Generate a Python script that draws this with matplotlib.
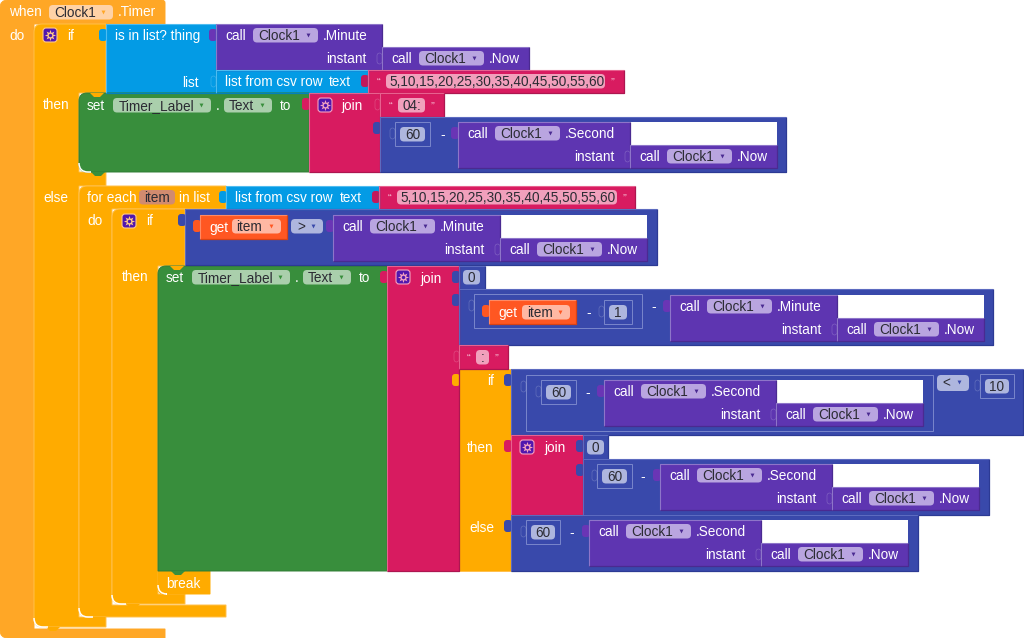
import matplotlib
matplotlib.use("Agg")
import matplotlib.pyplot as plt
from matplotlib.patches import PathPatch, FancyBboxPatch, Rectangle
from matplotlib.path import Path

plt.rcParams['font.family'] = ['Liberation Sans', 'DejaVu Sans']

# texts on the blocks
clock_name = "Clock1"
label_name = "Timer_Label"
csv_row = "5,10,15,20,25,30,35,40,45,50,55,60"
var_name = "item"
first_text = "04:"
sep_text = ":"

# block colours
EVENT = '#FFA726'
CTRL = '#FFAB00'
LIST = '#039BE5'
CALL = '#5E35B1'
TEXT = '#D81B60'
SET = '#388E3C'
MATH = '#3949AB'
GET = '#FF5722'

FS = 9.8

fig = plt.figure(figsize=(10.24, 6.38), dpi=100)
ax = fig.add_axes([0, 0, 1, 1])
ax.set_xlim(0, 1024)
ax.set_ylim(638, 0)
ax.axis('off')


def shape(points, color, edge=None):
    # points are (x, y) or (x, y, corner radius), closed polygon
    verts, codes = [], []
    n = len(points)
    for i, p in enumerate(points):
        r = p[2] if len(p) > 2 else 0
        x, y = p[0], p[1]
        if r == 0:
            verts.append((x, y))
            codes.append(Path.LINETO)
            continue
        px, py = points[i - 1][:2]
        nx, ny = points[(i + 1) % n][:2]
        d1 = max(abs(px - x), abs(py - y))
        d2 = max(abs(nx - x), abs(ny - y))
        a = (x + (px - x) * r / d1, y + (py - y) * r / d1)
        b = (x + (nx - x) * r / d2, y + (ny - y) * r / d2)
        verts += [a, (x, y), b]
        codes += [Path.LINETO, Path.CURVE3, Path.CURVE3]
    codes[0] = Path.MOVETO
    verts.append(verts[0])
    codes.append(Path.CLOSEPOLY)
    ax.add_patch(PathPatch(Path(verts, codes), fc=color, ec=edge or color, lw=0.7))


def block(x0, y0, x1, y1, color, light, dark):
    ax.add_patch(Rectangle((x0, y0), x1 - x0, y1 - y0, fc=color, ec='none'))
    ax.plot([x0, x0, x1], [y1, y0, y0], color=light, lw=0.8, solid_capstyle='butt')
    ax.plot([x0, x1, x1], [y1, y1, y0], color=dark, lw=0.9, solid_capstyle='butt')


def blue(x0, y0, x1, y1):
    block(x0, y0, x1, y1, MATH, '#5c6bc0', '#2c3a94')


def purple(x0, y0, x1, y1):
    block(x0, y0, x1, y1, CALL, '#8e75c9', '#4a2a91')


def pink(x0, y0, x1, y1):
    block(x0, y0, x1, y1, TEXT, '#e8618f', '#ad1650')


def sky(x0, y0, x1, y1):
    block(x0, y0, x1, y1, LIST, '#4fbcf0', '#0280bd')


def tab(x, y, color, faint=False):
    if faint:
        ax.add_patch(FancyBboxPatch((x - 5, y + 6), 5, 11, boxstyle='round,pad=0,rounding_size=2.5',
                                    fc=color, ec='#ffffff', lw=0.3, alpha=0.35))
    else:
        ax.add_patch(FancyBboxPatch((x - 7, y + 5), 8, 12, boxstyle='round,pad=0,rounding_size=3',
                                    fc=color, ec='none'))


def label(x, y, s, color='white', ha='left', size=FS):
    ax.text(x, y, s, color=color, ha=ha, va='baseline', fontsize=size)


def pill(x0, y0, x1, s, fc, arrow=None, tx=None, h=14.5):
    ax.add_patch(FancyBboxPatch((x0, y0), x1 - x0, h, boxstyle='round,pad=0,rounding_size=4',
                                fc=fc, ec='none'))
    if tx is None:
        ax.text((x0 + x1) / 2, y0 + 12, s, color='#2b2b33', ha='center', va='baseline', fontsize=FS)
    else:
        ax.text(tx, y0 + 12, s, color='#2b2b33', ha='left', va='baseline', fontsize=FS)
    if arrow:
        ax.plot([x1 - 10], [y0 + 7], marker='v', ms=2.8, color=arrow, mec='none')


def clock_pill(x, y):
    pill(x, y, x + 65, clock_name, '#B9A5E0', '#4a2a91', tx=x + 5)


def clock_call(x0, y0, x1, prop, hole=True):
    # the "call Clock1.prop" block with its nested "call Clock1.Now"
    if hole:
        ax.add_patch(Rectangle((x1, y0), 147, 23, fc='white', ec='none'))
    purple(x0, y0, x1, y0 + 46)
    label(x0 + 9, y0 + 16, "call")
    clock_pill(x0 + 37, y0 + 4)
    label(x0 + 107, y0 + 16, prop)
    label(x1 - 16, y0 + 39, "instant", ha='right')
    purple(x1, y0 + 23, x1 + 147, y0 + 46)
    tab(x1, y0 + 23, CALL, faint=True)
    label(x1 + 9, y0 + 39, "call")
    clock_pill(x1 + 37, y0 + 27)
    label(x1 + 107, y0 + 39, ".Now")
    tab(x0, y0, '#6a35b5')


def number(x0, y0, x1, s):
    # shadow number inside a math block
    ax.add_patch(Rectangle((x0, y0), x1 - x0, 24, fc=MATH, ec='#7986cb', lw=0.7))
    tab(x0, y0, MATH, faint=True)
    pill(x0 + 5, y0 + 5, x1 - 5, s, '#AEB6DE')


def gear(cx, cy, ring):
    ax.add_patch(FancyBboxPatch((cx - 7, cy - 7), 14, 14, boxstyle='round,pad=0,rounding_size=3',
                                fc='#4F16AE', ec=ring, lw=0.8))
    ax.plot([cx], [cy], marker=(8, 1, 0), ms=8, color=ring, mec='none')
    ax.plot([cx], [cy], marker='o', ms=2.5, color='#4F16AE', mec='none')


def quoted(x0, x1, base, s, fc, tx=None):
    label(x0 - 9, base, "\u201c", color='#f7c6d8', size=8)
    label(x1 + 6, base, "\u201d", color='#f7c6d8', size=8)
    pill(x0, base - 12, x1, s, fc, tx=tx)


def notch(x, y, color):
    ax.fill([x - 7, x - 3, x + 3, x + 7], [y, y + 4, y + 4, y], color=color, lw=0)


def corner_arc(x, y, run=18):
    # pale crescent on the inner bottom left of a nested statement
    p = Path([(x, y - 9), (x, y), (x + 9, y), (x + run, y)],
             [Path.MOVETO, Path.CURVE3, Path.CURVE3, Path.LINETO])
    ax.add_patch(PathPatch(p, fc='none', ec='white', lw=1.1))


# outer event block
shape([(0, 0, 8), (165, 0, 3), (165, 24), (34, 24), (34, 629), (165, 629), (165, 638), (0, 638, 8)], EVENT)
label(9, 16, "when")
pill(49, 5, 113, clock_name, '#FFD2A6', '#FFA726', tx=54)
label(118, 16, ".Timer")
label(9, 40, "do")

# if / then / else
shape([(34, 24, 8), (106, 24), (106, 93), (79, 93), (79, 172), (106, 172), (106, 186), (79, 186),
       (79, 617), (106, 617), (106, 627), (34, 627, 8)], CTRL, '#FFC04D')
notch(53, 627, CTRL)
corner_arc(34, 627, 14)
gear(50, 35, '#FFC98A')
label(67, 40, "if")
label(43, 109, "then")
label(43, 202, "else")

# is in list?
sky(106, 24, 216, 93)
tab(106, 24, LIST)
label(115, 40, "is in list? thing")
label(199, 87, "list", ha='right')
clock_call(216, 24, 382, ".Minute", hole=False)
sky(216, 70, 368, 93)
tab(216, 70, LIST, faint=True)
label(225, 86, "list from csv row")
label(329, 86, "text")
pink(368, 70, 624, 93)
tab(368, 70, '#c2185b')
quoted(386, 605, 86, csv_row, '#F1A0BC', tx=389)

# first set
shape([(79, 93, 8), (309, 93), (309, 172), (79, 172, 8)], SET, '#2f7d34')
notch(97, 93, CTRL)
notch(98, 172, SET)
corner_arc(79, 172, 12)
label(87, 110, "set")
pill(113, 98, 211, label_name, '#AACFAC', '#388E3C', tx=119)
label(216, 110, ".")
pill(224, 98, 272, "Text", '#AACFAC', '#388E3C', tx=229)
label(280, 110, "to")
pink(309, 93, 380, 172)
tab(309, 93, TEXT)
gear(325, 105, '#F5A3C0')
label(341, 110, "join")
pink(380, 93, 444, 117)
tab(380, 93, TEXT, faint=True)
quoted(398, 425, 110, first_text, '#F1A0BC')
blue(380, 117, 786, 172)
tab(380, 117, MATH)
number(395, 122, 430, "60")
label(440, 139, "-")
clock_call(458, 122, 630, ".Second")

# for each
shape([(79, 186, 8), (226, 186), (226, 209), (112, 209), (112, 605), (226, 605), (226, 617),
       (79, 617, 8)], CTRL, '#FFC04D')
notch(99, 617, CTRL)
corner_arc(79, 617, 14)
label(87, 202, "for each")
pill(139, 190, 175, var_name, '#D18B6F', tx=144)
label(179, 202, "in list")
sky(226, 186, 379, 209)
tab(226, 186, LIST)
label(235, 202, "list from csv row")
label(340, 202, "text")
pink(379, 186, 635, 209)
tab(379, 186, '#c2185b')
quoted(397, 617, 202, csv_row, '#F1A0BC', tx=400)
label(87, 225, "do")

# inner if
shape([(112, 209, 8), (185, 209), (185, 266), (158, 266), (158, 594), (185, 594), (185, 604),
       (112, 604, 8)], CTRL, '#FFC04D')
notch(133, 604, CTRL)
corner_arc(112, 604, 14)
gear(129, 221, '#FFC98A')
label(146, 225, "if")
label(122, 281, "then")
blue(185, 209, 657, 265)
tab(185, 209, MATH)
block(200, 215, 287, 239, GET, '#ff8a65', '#d84315')
tab(200, 215, GET)
label(209, 232, "get")
pill(232, 219, 281, var_name, '#FFB8A3', '#FF5722', tx=236)
pill(291, 219, 323, ">", '#AEB6DE', '#3949AB', tx=297)
clock_call(333, 215, 500, ".Minute")

# second set and its long join
shape([(158, 571), (210, 571), (210, 594), (158, 594, 6)], CTRL)
label(166, 588, "break")
shape([(158, 266, 8), (387, 266), (387, 571), (158, 571)], SET, '#2f7d34')
notch(177, 266, CTRL)
notch(178, 571, SET)
corner_arc(158, 594, 8)
label(166, 282, "set")
pill(192, 270, 290, label_name, '#AACFAC', '#388E3C', tx=198)
label(295, 282, ".")
pill(303, 270, 351, "Text", '#AACFAC', '#388E3C', tx=308)
label(359, 282, "to")
pink(387, 266, 459, 571)
tab(387, 266, TEXT)
gear(403, 277, '#F5A3C0')
label(420, 283, "join")

blue(459, 266, 485, 289)
tab(459, 266, MATH)
pill(463, 270, 480, "0", '#AEB6DE')

blue(459, 289, 993, 345)
tab(459, 289, MATH)
ax.add_patch(Rectangle((474, 294), 168, 34, fc=MATH, ec='#7986cb', lw=0.7))
tab(474, 294, MATH, faint=True)
block(489, 300, 576, 324, GET, '#ff8a65', '#d84315')
tab(489, 300, GET)
label(498, 317, "get")
pill(522, 305, 570, var_name, '#FFB8A3', '#FF5722', tx=527)
label(586, 317, "-")
number(604, 300, 632, "1")
label(651, 311, "-")
clock_call(670, 295, 837, ".Minute")

pink(459, 345, 508, 369)
tab(459, 345, TEXT, faint=True)
quoted(476, 489, 362, sep_text, '#F1A0BC')

# inline if
ax.add_patch(Rectangle((459, 369), 52, 202, fc=CTRL, ec='#FFC04D', lw=0.7))
tab(459, 369, CTRL)
label(487, 385, "if")
label(467, 452, "then")
label(469, 532, "else")

blue(511, 369, 1023, 435)
tab(511, 369, MATH)
ax.add_patch(Rectangle((526, 375), 407, 56, fc=MATH, ec='#7986cb', lw=0.7))
tab(526, 375, MATH, faint=True)
number(541, 380, 576, "60")
label(585, 397, "-")
clock_call(604, 380, 776, ".Second")
pill(937, 375, 969, "<", '#AEB6DE', '#3949AB', tx=942, h=16)
number(980, 374, 1014, "10")

# then branch
pink(511, 435, 583, 515)
tab(511, 435, TEXT)
gear(527, 447, '#F5A3C0')
label(544, 452, "join")
blue(583, 435, 608, 459)
tab(583, 435, MATH)
pill(587, 440, 604, "0", '#AEB6DE')
blue(583, 459, 989, 515)
tab(583, 459, MATH)
number(597, 464, 632, "60")
label(640, 481, "-")
clock_call(660, 464, 832, ".Second")

# else branch
blue(511, 515, 918, 571)
tab(511, 515, MATH)
number(526, 520, 560, "60")
label(569, 537, "-")
clock_call(589, 520, 761, ".Second")

fig.savefig("out.png", dpi=100, facecolor='white')
